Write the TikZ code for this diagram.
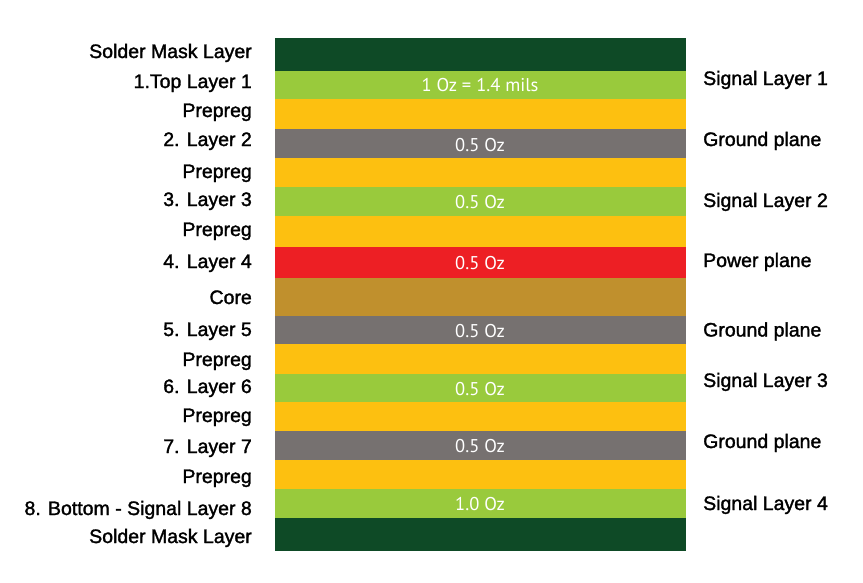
\documentclass[tikz,border=0pt]{standalone}
\usepackage{fontspec}
\setmainfont{Liberation Sans}
\newfontfamily\lblfont{Liberation Sans}[FakeBold=1.6]
\newfontfamily\barfont{PT Sans}
\definecolor{mask}{HTML}{0E4A26}
\definecolor{sig}{HTML}{99CA3C}
\definecolor{preg}{HTML}{FDC010}
\definecolor{gnd}{HTML}{767170}
\definecolor{pwr}{HTML}{ED1F24}
\definecolor{core}{HTML}{C0902D}
\begin{document}
\begin{tikzpicture}[x=1pt,y=-1pt,
  lbl/.style={font=\lblfont\fontsize{19.5}{22}\selectfont, inner sep=0pt, text=black},
  leftlbl/.style={lbl, anchor=base east},
  rightlbl/.style={lbl, anchor=base west},
  bartxt/.style={font=\barfont\fontsize{18.5}{22}\selectfont, text=white, inner sep=0pt, anchor=base}]
\useasboundingbox (0,0) rectangle (863,582);
% layers
\fill[mask] (275,38) rectangle (686,71);
\fill[sig]  (275,71) rectangle (686,99);
\fill[preg] (275,99) rectangle (686,129);
\fill[gnd]  (275,129) rectangle (686,158);
\fill[preg] (275,158) rectangle (686,187);
\fill[sig]  (275,187) rectangle (686,216);
\fill[preg] (275,216) rectangle (686,247);
\fill[pwr]  (275,247) rectangle (686,278);
\fill[core] (275,278) rectangle (686,316);
\fill[gnd]  (275,316) rectangle (686,344);
\fill[preg] (275,344) rectangle (686,374);
\fill[sig]  (275,374) rectangle (686,402);
\fill[preg] (275,402) rectangle (686,431);
\fill[gnd]  (275,431) rectangle (686,460);
\fill[preg] (275,460) rectangle (686,489);
\fill[sig]  (275,489) rectangle (686,518);
\fill[mask] (275,518) rectangle (686,551);
% bar texts
\node[bartxt] (t1) at (480,91.5) {1 Oz = 1.4 mils};
\node[bartxt] (t2) at (480,151) {0.5 Oz};
\node[bartxt] (t3) at (480,208.5) {0.5 Oz};
\node[bartxt] (t4) at (480,269) {0.5 Oz};
\node[bartxt] (t5) at (480,337) {0.5 Oz};
\node[bartxt] (t6) at (480,395) {0.5 Oz};
\node[bartxt] (t7) at (480,452) {0.5 Oz};
\node[bartxt] (t8) at (480,510.5) {1.0 Oz};
% left labels
\node[leftlbl] (l1) at (252,58) {Solder Mask Layer};
\node[leftlbl] (l2) at (252,88) {1.Top Layer 1};
\node[leftlbl] (l3) at (252,117) {Prepreg};
\node[leftlbl] (l4) at (252,146) {2. Layer 2};
\node[leftlbl] (l5) at (252,178) {Prepreg};
\node[leftlbl] (l6) at (252,206) {3. Layer 3};
\node[leftlbl] (l7) at (252,236) {Prepreg};
\node[leftlbl] (l8) at (252,268) {4. Layer 4};
\node[leftlbl] (l9) at (252,304) {Core};
\node[leftlbl] (l10) at (252,336) {5. Layer 5};
\node[leftlbl] (l11) at (252,366) {Prepreg};
\node[leftlbl] (l12) at (252,393) {6. Layer 6};
\node[leftlbl] (l13) at (252,422) {Prepreg};
\node[leftlbl] (l14) at (252,453) {7. Layer 7};
\node[leftlbl] (l15) at (252,483) {Prepreg};
\node[leftlbl] (l16) at (252,515) {8. Bottom - Signal Layer 8};
\node[leftlbl] (l17) at (252,543) {Solder Mask Layer};
% right labels
\node[rightlbl] (r1) at (703,85) {Signal Layer 1};
\node[rightlbl] (r2) at (703,146) {Ground plane};
\node[rightlbl] (r3) at (703,207) {Signal Layer 2};
\node[rightlbl] (r4) at (703,267) {Power plane};
\node[rightlbl] (r5) at (703,336.5) {Ground plane};
\node[rightlbl] (r6) at (703,387) {Signal Layer 3};
\node[rightlbl] (r7) at (703,448) {Ground plane};
\node[rightlbl] (r8) at (703,510) {Signal Layer 4};
\end{tikzpicture}
\end{document}
